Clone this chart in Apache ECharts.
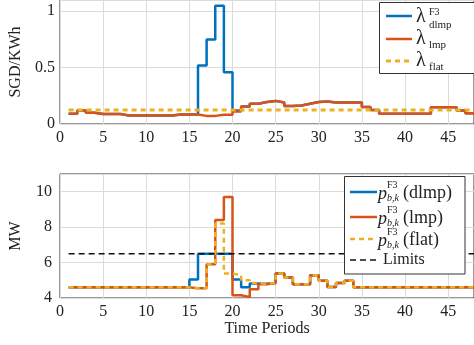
<!DOCTYPE html>
<html>
<head>
<meta charset="utf-8">
<script src="https://cdn.jsdelivr.net/npm/echarts@6/dist/echarts.min.js"></script>
<style>
html,body{margin:0;padding:0;background:#fff;}
#chart{width:474px;height:345px;}
</style>
</head>
<body>
<div id="chart"></div>
<script>
// ---- data ----
const periods = [1,2,3,4,5,6,7,8,9,10,11,12,13,14,15,16,17,18,19,20,21,22,23,24,25,26,27,28,29,30,31,32,33,34,35,36,37,38,39,40,41,42,43,44,45,46,47,48];

// top panel: prices (SGD/KWh)
const priceDlmp = [0.09,0.12,0.10,0.088,0.088,0.088,0.075,0.075,0.075,0.075,0.075,0.075,0.085,0.085,0.085,0.52,0.75,1.05,0.46,0.12,0.155,0.18,0.195,0.205,0.19,0.16,0.165,0.18,0.195,0.20,0.19,0.19,0.19,0.19,0.15,0.125,0.09,0.09,0.09,0.09,0.09,0.09,0.148,0.148,0.148,0.12,0.095,0.095];
const priceLmp  = [0.09,0.12,0.10,0.088,0.088,0.088,0.075,0.075,0.075,0.075,0.075,0.075,0.085,0.085,0.085,0.072,0.072,0.082,0.082,0.11,0.155,0.18,0.195,0.205,0.19,0.16,0.165,0.18,0.195,0.20,0.19,0.19,0.19,0.19,0.15,0.125,0.09,0.09,0.09,0.09,0.09,0.09,0.148,0.148,0.148,0.12,0.095,0.095];
const priceFlat = [0.125,0.125,0.125,0.125,0.125,0.125,0.125,0.125,0.125,0.125,0.125,0.125,0.125,0.125,0.125,0.125,0.125,0.125,0.125,0.125,0.125,0.125,0.125,0.125,0.125,0.125,0.125,0.125,0.125,0.125,0.125,0.125,0.125,0.125,0.125,0.125,0.125,0.125,0.125,0.125,0.125,0.125,0.125,0.125,0.125,0.125,0.125,0.125];

// bottom panel: power (MW)
const powerDlmp = [4.6,4.6,4.6,4.6,4.6,4.6,4.6,4.6,4.6,4.6,4.6,4.6,4.6,4.6,5.05,6.5,6.5,6.5,6.5,5.05,4.6,4.82,4.8,4.85,5.38,5.16,4.78,4.78,5.29,4.97,4.62,4.85,4.97,4.6,4.6,4.6,4.6,4.6,4.6,4.6,4.6,4.6,4.6,4.6,4.6,4.6,4.6,4.6];
const powerLmp  = [4.6,4.6,4.6,4.6,4.6,4.6,4.6,4.6,4.6,4.6,4.6,4.6,4.6,4.6,4.55,4.55,5.9,8.4,9.7,4.15,4.05,4.5,4.78,4.85,5.38,5.16,4.78,4.78,5.29,4.97,4.62,4.85,4.97,4.6,4.6,4.6,4.6,4.6,4.6,4.6,4.6,4.6,4.6,4.6,4.6,4.6,4.6,4.6];
const powerFlat = [4.6,4.6,4.6,4.6,4.6,4.6,4.6,4.6,4.6,4.6,4.6,4.6,4.6,4.6,4.55,4.55,5.9,8.2,5.38,5.3,5.0,4.85,4.8,4.85,5.38,5.16,4.78,4.78,5.29,4.97,4.62,4.85,4.97,4.6,4.6,4.6,4.6,4.6,4.6,4.6,4.6,4.6,4.6,4.6,4.6,4.6,4.6,4.6];
const limitX = [1,48];
const limitY = [6.5,6.5];

const xTicks = [0,5,10,15,20,25,30,35,40,45];

// ---- chart ----
const BLUE='#0072BD', ORANGE='#D95319', YELLOW='#EDB120';
const FONT='Liberation Serif';
const pair=(xs,ys)=>xs.map((x,i)=>[x,ys[i]]);

const chart = echarts.init(document.getElementById('chart'), null, {renderer:'canvas'});

function xAxisCfg(gi, name){
  return {
    type:'value', gridIndex:gi, min:0, max:48, interval:5,
    name:name||'', nameLocation:'middle', nameGap:20,
    nameTextStyle:{fontFamily:FONT,fontSize:16,color:'#222'},
    axisLine:{show:false}, axisTick:{show:false},
    axisLabel:{fontFamily:FONT,fontSize:16,color:'#222',margin:6,showMaxLabel:false,
      formatter:v=>xTicks.indexOf(v)>=0?String(v):''},
    splitLine:{show:true,lineStyle:{color:'#dcdcdc',width:1}}
  };
}

const legendText = (x,y,txt,size,italic)=>({type:'text',z:110,silent:true,x:x,y:y,
  style:{text:txt,fontFamily:FONT,fontSize:size,fontStyle:italic?'italic':'normal',fill:'#222',verticalAlign:'middle',align:'left'}});
const legendLine = (x1,x2,y,color,dash,w)=>({type:'line',z:110,silent:true,
  shape:{x1:x1,y1:y,x2:x2,y2:y},style:{stroke:color,lineWidth:w||2.5,lineDash:dash||null}});

chart.setOption({
  animation:false,
  backgroundColor:'#fff',
  grid:[
    {left:55, top:0, right:-2, height:124, show:true, borderColor:'#333', borderWidth:1, backgroundColor:'transparent'},
    {left:55, top:174, right:-2, height:124, show:true, borderColor:'#333', borderWidth:1, backgroundColor:'transparent'}
  ],
  xAxis:[ xAxisCfg(0), xAxisCfg(1,'Time Periods') ],
  yAxis:[
    {type:'value', gridIndex:0, min:0, max:1.1, interval:0.5,
      name:'SGD/KWh', nameLocation:'middle', nameGap:36,
      nameTextStyle:{fontFamily:FONT,fontSize:16,color:'#222'},
      axisLine:{show:false}, axisTick:{show:false},
      axisLabel:{fontFamily:FONT,fontSize:16,color:'#222',margin:5,showMaxLabel:false},
      splitLine:{show:true,lineStyle:{color:'#dcdcdc',width:1}}},
    {type:'value', gridIndex:1, min:4, max:11, interval:2,
      name:'MW', nameLocation:'middle', nameGap:36,
      nameTextStyle:{fontFamily:FONT,fontSize:16,color:'#222'},
      axisLine:{show:false}, axisTick:{show:false},
      axisLabel:{fontFamily:FONT,fontSize:16,color:'#222',margin:8,showMaxLabel:false},
      splitLine:{show:true,lineStyle:{color:'#dcdcdc',width:1}}}
  ],
  series:[
    {type:'line', xAxisIndex:0, yAxisIndex:0, step:'end', symbol:'none', data:pair(periods,priceDlmp), lineStyle:{color:BLUE,width:2.5}, z:2},
    {type:'line', xAxisIndex:0, yAxisIndex:0, step:'end', symbol:'none', data:pair(periods,priceLmp), lineStyle:{color:ORANGE,width:2.5}, z:3},
    {type:'line', xAxisIndex:0, yAxisIndex:0, step:'end', symbol:'none', data:pair(periods,priceFlat), lineStyle:{color:YELLOW,width:3,type:[5,4]}, z:4},
    {type:'line', xAxisIndex:1, yAxisIndex:1, step:'end', symbol:'none', data:pair(periods,powerDlmp), lineStyle:{color:BLUE,width:2.5}, z:2},
    {type:'line', xAxisIndex:1, yAxisIndex:1, step:'end', symbol:'none', data:pair(periods,powerLmp), lineStyle:{color:ORANGE,width:2.5}, z:3},
    {type:'line', xAxisIndex:1, yAxisIndex:1, step:'end', symbol:'none', data:pair(periods,powerFlat), lineStyle:{color:YELLOW,width:2.5,type:[5,4]}, z:4},
    {type:'line', xAxisIndex:1, yAxisIndex:1, symbol:'none', data:pair(limitX,limitY), lineStyle:{color:'#111',width:1.6,type:[6,4]}, z:5}
  ],
  graphic:[
    // top legend
    {type:'rect', silent:true, z:100, shape:{x:379.5,y:2.5,width:110,height:71}, style:{fill:'#fff',stroke:'#333',lineWidth:1}},
    legendLine(386,412,16,BLUE),
    legendText(416,17,'λ',20,false),
    legendText(429,12,'F3',10,false),
    legendText(429,25,'dlmp',11,false),
    legendLine(386,412,39,ORANGE),
    legendText(416,39,'λ',20,false),
    legendText(429,45,'lmp',11,false),
    legendLine(386,412,61,YELLOW,[5,4],3),
    legendText(416,61,'λ',20,false),
    legendText(429,67,'flat',11,false),
    // bottom legend
    {type:'rect', silent:true, z:100, shape:{x:344.5,y:176.5,width:120.5,height:97.5}, style:{fill:'#fff',stroke:'#333',lineWidth:1}},
    legendLine(350,377,192,BLUE),
    legendText(378,194,'p',18,true),
    legendText(387,185,'F3',10,false),
    legendText(387,198,'b,k',10,true),
    legendText(403,193,'(dlmp)',18,false),
    legendLine(350,377,217,ORANGE),
    legendText(378,219,'p',18,true),
    legendText(387,210,'F3',10,false),
    legendText(387,223,'b,k',10,true),
    legendText(403,218,'(lmp)',18,false),
    legendLine(350,377,239,YELLOW,[5,4]),
    legendText(378,241,'p',18,true),
    legendText(387,232,'F3',10,false),
    legendText(387,245,'b,k',10,true),
    legendText(403,240,'(flat)',18,false),
    legendLine(350,377,260,'#111',[6,4],1.6),
    legendText(383,260,'Limits',16,false)
  ]
});
</script>
</body>
</html>
